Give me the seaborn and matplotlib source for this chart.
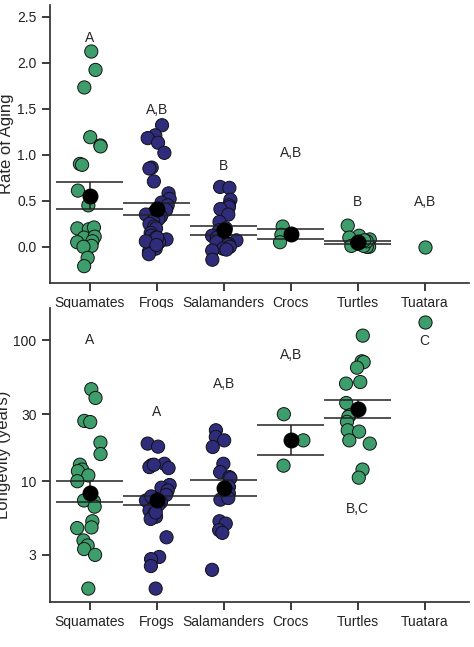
import numpy as np
import pandas as pd
import matplotlib
matplotlib.use("Agg")
import matplotlib.pyplot as plt
import seaborn as sns
from matplotlib.ticker import FixedLocator, NullLocator

groups = ["Squamates", "Frogs", "Salamanders", "Crocs", "Turtles", "Tuatara"]
green, navy = "#3d9e6c", "#2f2c7c"
palette = {"Squamates": green, "Frogs": navy, "Salamanders": navy,
           "Crocs": green, "Turtles": green, "Tuatara": green}

aging = {
    "Squamates": [2.12, 1.92, 1.73, 1.19, 1.10, 1.09, 0.90, 0.89, 0.61, 0.45, 0.20, 0.19,
                  0.21, 0.10, 0.11, 0.06, 0.05, 0.01, 0.0, -0.12, -0.21],
    "Frogs": [1.32, 1.21, 1.18, 1.13, 1.02, 0.86, 0.85, 0.71, 0.58, 0.52, 0.48, 0.45, 0.40,
              0.37, 0.35, 0.33, 0.30, 0.28, 0.25, 0.22, 0.20, 0.15, 0.12, 0.10, 0.08, 0.05,
              0.03, 0.0, -0.02, -0.05, -0.08, 0.10, 0.06, 0.02],
    "Salamanders": [0.65, 0.64, 0.51, 0.45, 0.43, 0.41, 0.35, 0.27, 0.20, 0.18, 0.15, 0.12,
                    0.10, 0.07, 0.05, 0.03, 0.02, 0.0, -0.02, -0.03, -0.04, -0.14],
    "Crocs": [0.22, 0.13, 0.05],
    "Turtles": [0.23, 0.12, 0.10, 0.08, 0.05, 0.03, 0.02, 0.01, 0.0, 0.0, 0.01, 0.04, 0.06, 0.07],
    "Tuatara": [0.0],
}
aging_mean = [0.55, 0.41, 0.18, 0.14, 0.05, None]
aging_lo = [0.41, 0.35, 0.13, 0.08, 0.03, None]
aging_hi = [0.70, 0.48, 0.23, 0.19, 0.06, None]
aging_letters = ["A", "A,B", "B", "A,B", "B", "A,B"]
aging_letter_y = [2.27, 1.48, 0.88, 1.02, 0.49, 0.49]

longevity = {
    "Squamates": [45, 39, 26.8, 26.3, 18.8, 15.6, 13.1, 12.1, 11.8, 11.0, 10.0, 7.4, 7.2,
                  7.3, 6.6, 5.2, 4.65, 4.7, 3.8, 3.5, 3.3, 3.0, 1.73],
    "Frogs": [18.5, 17.6, 13.3, 13.0, 12.6, 13.1, 12.4, 9.4, 9.0, 8.6, 8.0, 7.6, 7.3, 7.1,
              6.8, 6.5, 6.2, 5.9, 5.6, 5.4, 7.8, 6.0, 4.0, 2.9, 2.8, 2.5, 1.73],
    "Salamanders": [23, 20.6, 19.5, 17.5, 13.3, 11.6, 10.7, 10.5, 9.1, 8.2, 7.4, 7.6, 5.2,
                    5.0, 4.5, 4.3, 2.35],
    "Crocs": [29.9, 19.5, 12.9],
    "Turtles": [108, 71, 70, 64, 50.6, 49.3, 35.9, 29.3, 28.6, 26.4, 23, 22.5, 19.5, 18.5,
                12.1, 10.6],
    "Tuatara": [136],
}
long_mean = [8.3, 7.3, 9.0, 19.5, 32.8, None]
long_lo = [7.1, 6.8, 7.9, 15.3, 28.0, None]
long_hi = [10.0, 7.9, 10.2, 24.9, 37.9, None]
long_letters = ["A", "A", "A,B", "A,B", "B,C", "C"]
long_letter_y = [100, 31, 49, 79, 6.3, 99]


def frame(d):
    rows = [(g, v) for g in groups for v in d[g]]
    return pd.DataFrame(rows, columns=["group", "value"])


sns.set_theme(style="ticks")
plt.rcParams['font.family'] = ['Liberation Sans', 'DejaVu Sans']
fig = plt.figure(figsize=(4.74, 6.47), dpi=100)
ax1 = fig.add_axes([0.105, 0.563, 0.884, 0.43])
ax2 = fig.add_axes([0.105, 0.0696, 0.884, 0.454])


def draw(ax, d, means, lo, hi, letters, ly):
    np.random.seed(3)
    sns.stripplot(data=frame(d), x="group", y="value", hue="group", palette=palette,
                  order=groups, jitter=0.2, size=9.5, linewidth=0.7, edgecolor="#111111",
                  legend=False, ax=ax, zorder=2)
    for i, (m, l, h) in enumerate(zip(means, lo, hi)):
        if m is None:
            continue
        ax.hlines([l, h], i - 0.5, i + 0.5, color="#222222", lw=1.1, zorder=3)
        ax.vlines(i, l, h, color="#222222", lw=1.1, zorder=3)
        ax.scatter([i], [m], s=110, color="black", zorder=4)
    for i, (t, y) in enumerate(zip(letters, ly)):
        ax.text(i, y, t, ha="center", va="center", fontsize=10)
    ax.set_xlim(-0.6, 5.66)
    ax.set_xlabel("")
    for s in ["top", "right"]:
        ax.spines[s].set_visible(False)
    for s in ["left", "bottom"]:
        ax.spines[s].set_color("#333333")
    ax.tick_params(labelsize=10, colors="#222222")


draw(ax1, aging, aging_mean, aging_lo, aging_hi, aging_letters, aging_letter_y)
ax1.set_ylim(-0.39, 2.63)
ax1.set_yticks([0.0, 0.5, 1.0, 1.5, 2.0, 2.5])
ax1.set_yticklabels(["0.0", "0.5", "1.0", "1.5", "2.0", "2.5"])
ax1.set_ylabel("Rate of Aging", fontsize=12, labelpad=2)

ax2.set_yscale("log")
draw(ax2, longevity, long_mean, long_lo, long_hi, long_letters, long_letter_y)
ax2.set_ylim(1.39, 169)
ax2.yaxis.set_major_locator(FixedLocator([3, 10, 30, 100]))
ax2.yaxis.set_minor_locator(NullLocator())
ax2.set_yticklabels(["3", "10", "30", "100"])
ax2.set_ylabel("Longevity (years)", fontsize=12, labelpad=2)

fig.savefig("out.png", dpi=100)
